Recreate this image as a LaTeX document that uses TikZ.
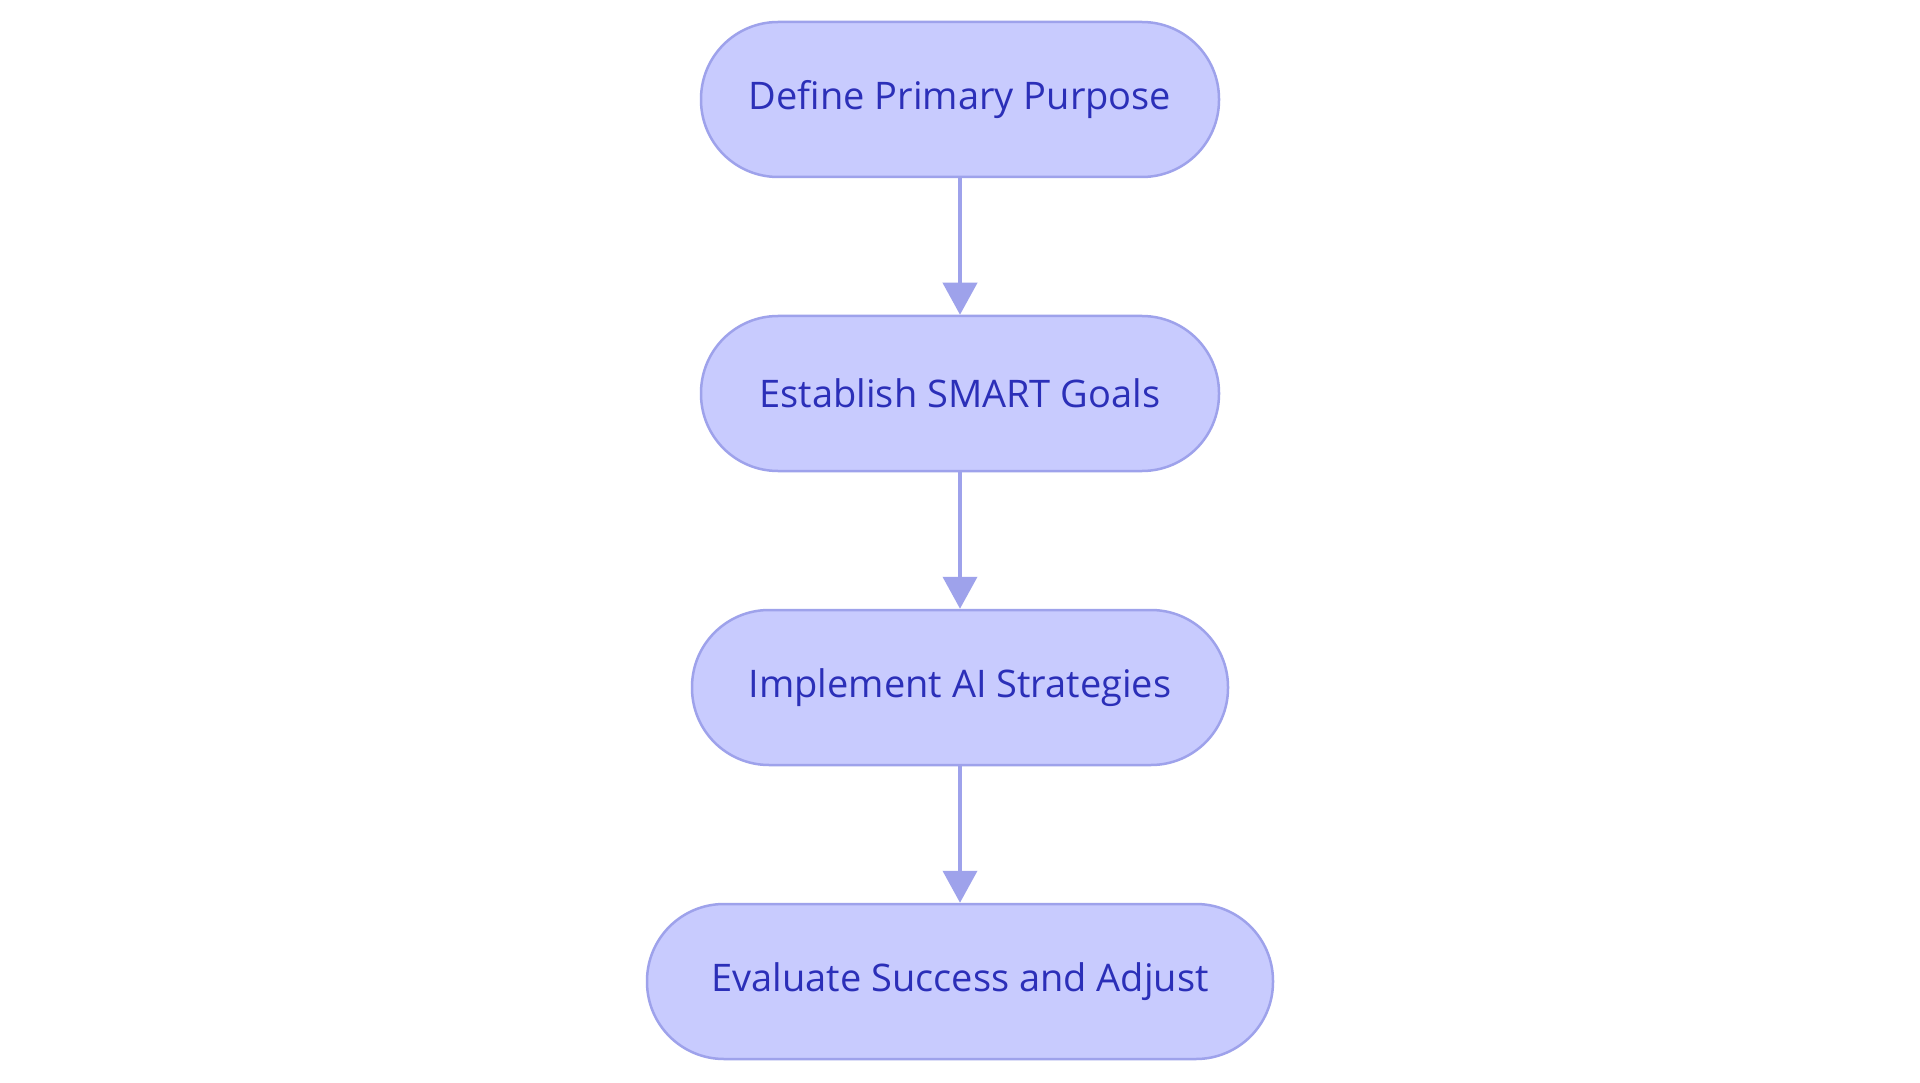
\documentclass[tikz,border=0pt]{standalone}
\usepackage{fontspec}
\setmainfont{Open Sans}
\usetikzlibrary{arrows.meta}
\definecolor{boxfill}{RGB}{200,203,254}
\definecolor{boxline}{RGB}{158,162,235}
\definecolor{boxtext}{RGB}{43,47,184}
\begin{document}
\begin{tikzpicture}[x=1pt,y=-1pt,
  stepbox/.style={draw=boxline, line width=2.5pt, fill=boxfill, rounded corners=77pt,
    minimum height=155pt, inner sep=0pt, text=boxtext,
    font=\fontsize{38}{44}\selectfont},
  flow/.style={draw=boxline, line width=4pt, -{Triangle[width=34pt,length=32pt]}}]
\useasboundingbox (0,0) rectangle (1920,1083);
\fill[white] (0,0) rectangle (1920,1083);
\node[stepbox, minimum width=518pt] (a) at (960,99.5) {Define Primary Purpose};
\node[stepbox, minimum width=518pt] (b) at (960,393.5) {Establish SMART Goals};
\node[stepbox, minimum width=536pt] (c) at (960,687.5) {Implement AI Strategies};
\node[stepbox, minimum width=626pt] (d) at (960,981.5) {Evaluate Success and Adjust};
\draw[flow] (a) -- (b);
\draw[flow] (b) -- (c);
\draw[flow] (c) -- (d);
\end{tikzpicture}
\end{document}
